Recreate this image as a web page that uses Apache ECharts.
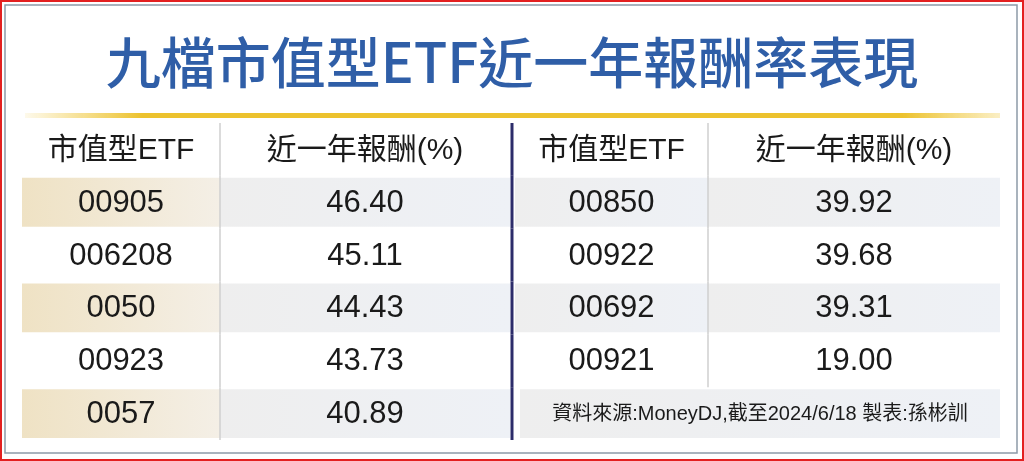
<!DOCTYPE html>
<html><head><meta charset="utf-8">
<script src="https://cdn.jsdelivr.net/npm/echarts@6/dist/echarts.min.js"></script>
<style>html,body{margin:0;padding:0;background:#fff}#c{width:1024px;height:461px}</style>
</head><body><div id="c"></div>
<script>
const title = '九檔市值型ETF近一年報酬率表現';
const headers = ['市值型ETF', '近一年報酬(%)'];
const leftNames = ['00905', '006208', '0050', '00923', '0057'];
const leftValues = ['46.40', '45.11', '44.43', '43.73', '40.89'];
const rightNames = ['00850', '00922', '00692', '00921'];
const rightValues = ['39.92', '39.68', '39.31', '19.00'];
const footnote = '資料來源:MoneyDJ,截至2024/6/18 製表:孫彬訓';
const rows = ['h', 'r1', 'r2', 'r3', 'r4', 'r5'];

const cols = [[0, 198], [198, 488], [493, 686], [686, 978]];
const data = [];
data.push([0, 0, headers[0], 0, 'h'], [1, 0, headers[1], 0, 'h'], [2, 0, headers[0], 0, 'h'], [3, 0, headers[1], 0, 'h']);
leftNames.forEach((n, i) => { data.push([0, i + 1, n, i % 2 === 0 ? 1 : 0, 'c']); data.push([1, i + 1, leftValues[i], i % 2 === 0 ? 2 : 0, 'c']); });
rightNames.forEach((n, i) => { data.push([2, i + 1, n, i % 2 === 0 ? 2 : 0, 'c']); data.push([3, i + 1, rightValues[i], i % 2 === 0 ? 2 : 0, 'c']); });
data.push([4, 5, footnote, 2, 'f']);

const chart = echarts.init(document.getElementById('c'));
chart.setOption({
  animation: false,
  title: { text: title, left: 'center', top: 30, textStyle: { fontFamily: 'Noto Sans CJK TC', fontSize: 55, fontWeight: 500, color: '#2f5ea7' } },
  grid: { left: 22, right: 24, top: 123, bottom: 21 },
  xAxis: { type: 'value', min: 0, max: 978, show: false },
  yAxis: { type: 'category', data: rows, inverse: true, show: false },
  graphic: [
    { type: 'rect', shape: { x: 1, y: 1, width: 1022, height: 459 }, style: { fill: 'none', stroke: '#e32020', lineWidth: 2 }, z: 10 },
    { type: 'rect', shape: { x: 5, y: 5, width: 1012, height: 448 }, style: { fill: 'none', stroke: '#8d9aa8', lineWidth: 1.5 }, z: 10 },
    { type: 'rect', shape: { x: 25, y: 113, width: 975, height: 5 }, style: { fill: new echarts.graphic.LinearGradient(0, 0, 1, 0, [{ offset: 0, color: 'rgba(240,200,60,0.1)' }, { offset: 0.12, color: '#ecc22e' }, { offset: 0.9, color: '#ecc22e' }, { offset: 1, color: 'rgba(240,200,60,0.3)' }]) } }
  ],
  series: [{
    type: 'custom',
    data: data,
    renderItem: function (params, api) {
      const c = api.value(0), r = api.value(1), text = api.value(2), sh = api.value(3), kind = api.value(4);
      const b = c === 4 ? [cols[2][0] + 5, cols[3][1]] : cols[c];
      const p0 = api.coord([b[0], r]), p1 = api.coord([b[1], r]);
      const h = api.size([0, 1])[1];
      const top = p0[1] - h / 2;
      const ch = [];
      if (sh) {
        const fill = sh === 1 ? new echarts.graphic.LinearGradient(0, 0, 1, 0, [{ offset: 0, color: '#efe2c4' }, { offset: 1, color: '#f4efe6' }])
          : new echarts.graphic.LinearGradient(0, 0, 1, 0, [{ offset: 0, color: '#eeeeee' }, { offset: 1, color: '#eef1f6' }]);
        ch.push({ type: 'rect', shape: { x: p0[0], y: top + 2, width: p1[0] - p0[0], height: h - 4 }, style: { fill: fill } });
      }
      ch.push({ type: 'text', style: { text: text, x: (p0[0] + p1[0]) / 2, y: p0[1] + 1, align: 'center', verticalAlign: 'middle',
        fontFamily: kind === 'c' ? 'Liberation Sans' : 'Liberation Sans, Noto Sans CJK TC', fontSize: kind === 'c' ? 31 : (kind === 'h' ? 30 : 20), fill: '#1a1a1a' } });
      if (c === 1 || (c === 3 && r < 5)) {
        const x = p0[0];
        ch.push({ type: 'line', shape: { x1: x, y1: top, x2: x, y2: top + h }, style: { stroke: '#cfcfcf', lineWidth: 1.5 } });
      }
      if (c === 2 || c === 4) {
        const x = api.coord([490, r])[0];
        ch.push({ type: 'line', shape: { x1: x, y1: top, x2: x, y2: top + h }, style: { stroke: '#2c2c6a', lineWidth: 3 } });
      }
      return { type: 'group', children: ch };
    }
  }]
});
</script></body></html>
